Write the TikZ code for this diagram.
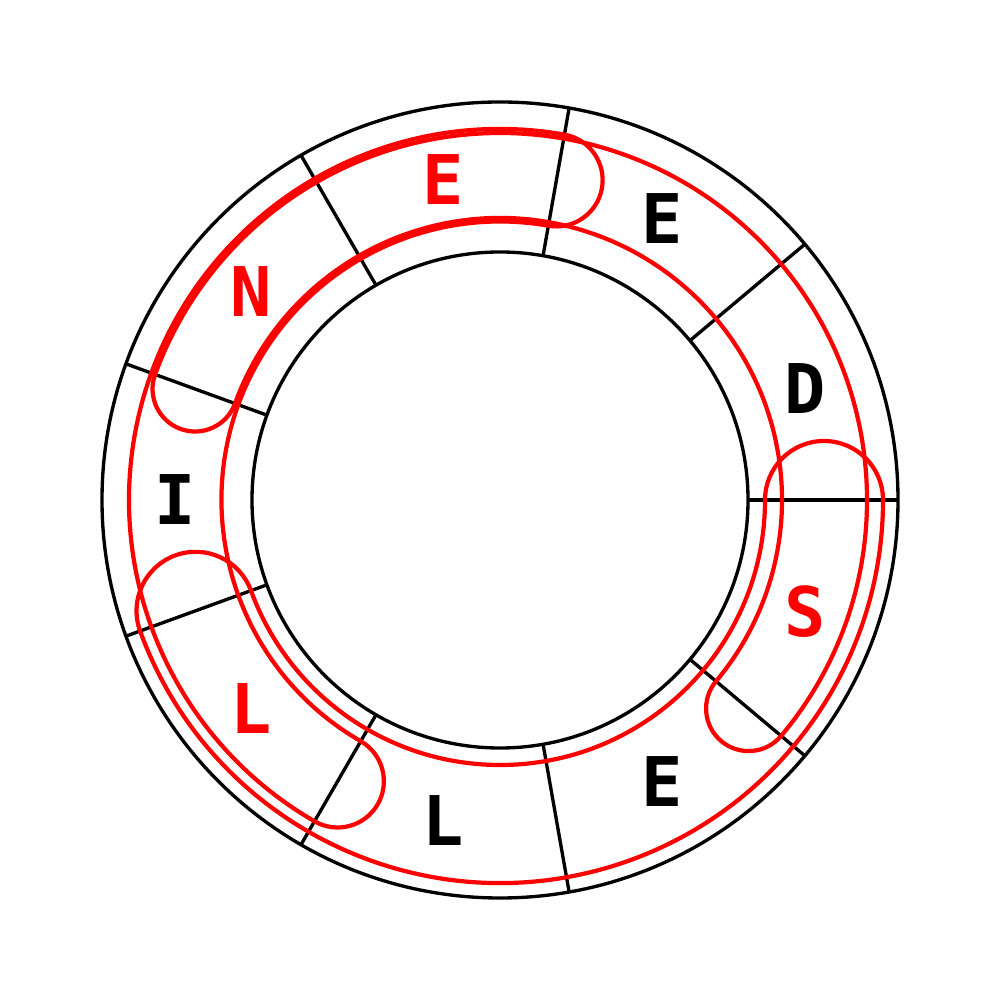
\documentclass[tikz,border=0pt]{standalone}
\usepackage{fontspec}
\newfontfamily\letterfont{DejaVu Sans Mono}
\begin{document}
\begin{tikzpicture}[
  ring/.style={line width=0.95pt, black},
  rope/.style={line width=1.2pt, red},
  letter/.style={font=\letterfont\bfseries\fontsize{19.5}{20}\selectfont, inner sep=0pt},
  redletter/.style={letter, text=red},
  blackletter/.style={letter, text=black},
]
\useasboundingbox (-5,-5) rectangle (5,5);
% ring
\draw[ring] (0,0) circle[radius=3.98];
\draw[ring] (0,0) circle[radius=2.48];
\foreach \a in {0,40,...,320} \draw[ring] (\a:2.48) -- (\a:3.98);
% letters
\node[blackletter] (d)  at (20:3.25)  {D};
\node[blackletter] (e1) at (60:3.25)  {E};
\node[redletter]   (e2) at (100:3.25) {E};
\node[redletter]   (n)  at (140:3.25) {N};
\node[blackletter] (i)  at (180:3.25) {I};
\node[redletter]   (l1) at (220:3.25) {L};
\node[blackletter] (l2) at (260:3.25) {L};
\node[blackletter] (e3) at (300:3.25) {E};
\node[redletter]   (s)  at (340:3.25) {S};
% loops: NEEDS, LINE, SELL
\foreach \a/\b/\ri/\ro in {-40/160/2.82/3.67, 80/240/2.785/3.71, 200/360/2.65/3.83} {
  \pgfmathsetmacro\rc{(\ro-\ri)/2}
  \draw[rope] (\a:\ro) arc[start angle=\a, end angle=\b, radius=\ro]
    arc[start angle=\b, end angle=\b+180, radius=\rc]
    arc[start angle=\b, end angle=\a, radius=\ri]
    arc[start angle=\a+180, end angle=\a+360, radius=\rc] -- cycle;
}
\end{tikzpicture}
\end{document}
